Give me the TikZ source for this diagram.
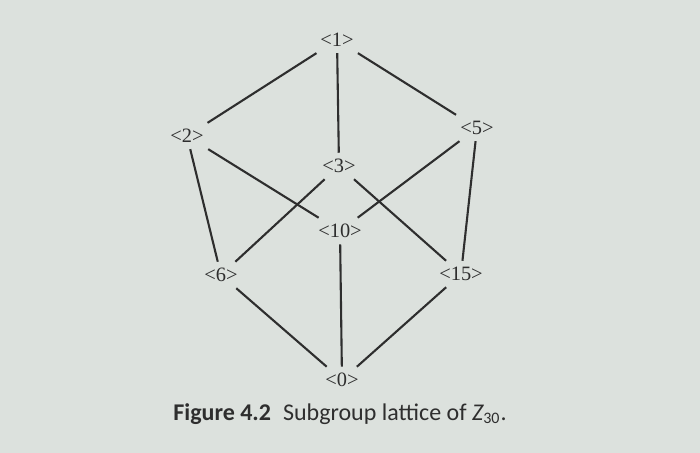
\documentclass[tikz,border=0pt]{standalone}
\usepackage{fontspec}
\setmainfont{Liberation Serif}
\newfontfamily\capfont{Carlito}
\usepackage{xcolor}

\begin{document}
\begin{tikzpicture}[x=0.5pt,y=-0.5pt,
  grp/.style={inner sep=3pt,font=\fontsize{10.2}{12}\selectfont,text=ink},
  edge/.style={line width=1.05pt,draw=ink}]
\definecolor{paper}{HTML}{DCE1DD}
\definecolor{ink}{HTML}{2E2E2E}
\fill[paper] (0,0) rectangle (700,453);
% the subgroups, top to bottom
\node[grp] (g1) at (337,40) {<1>};
\node[grp] (g2) at (187,136) {<2>};
\node[grp] (g5) at (477,128) {<5>};
\node[grp] (g3) at (339,166) {<3>};
\node[grp] (g10) at (340,231) {<10>};
\node[grp] (g6) at (221,275) {<6>};
\node[grp] (g15) at (461,274) {<15>};
\node[grp] (g0) at (342,380) {<0>};
  \foreach \hi/\lo in {g1/g2,g1/g3,g1/g5,g2/g6,g2/g10,g5/g10,g5/g15,g3/g6,g3/g15,g6/g0,g10/g0,g15/g0}
  {  \draw[edge] (\hi) -- (\lo);}
\node[text=ink,font=\capfont\fontsize{12}{15}\selectfont] (cap) at (340,414)
  {\textbf{Figure 4.2}\enspace Subgroup lattice of {\itshape Z}\textsubscript{30}.};
\end{tikzpicture}
\end{document}
